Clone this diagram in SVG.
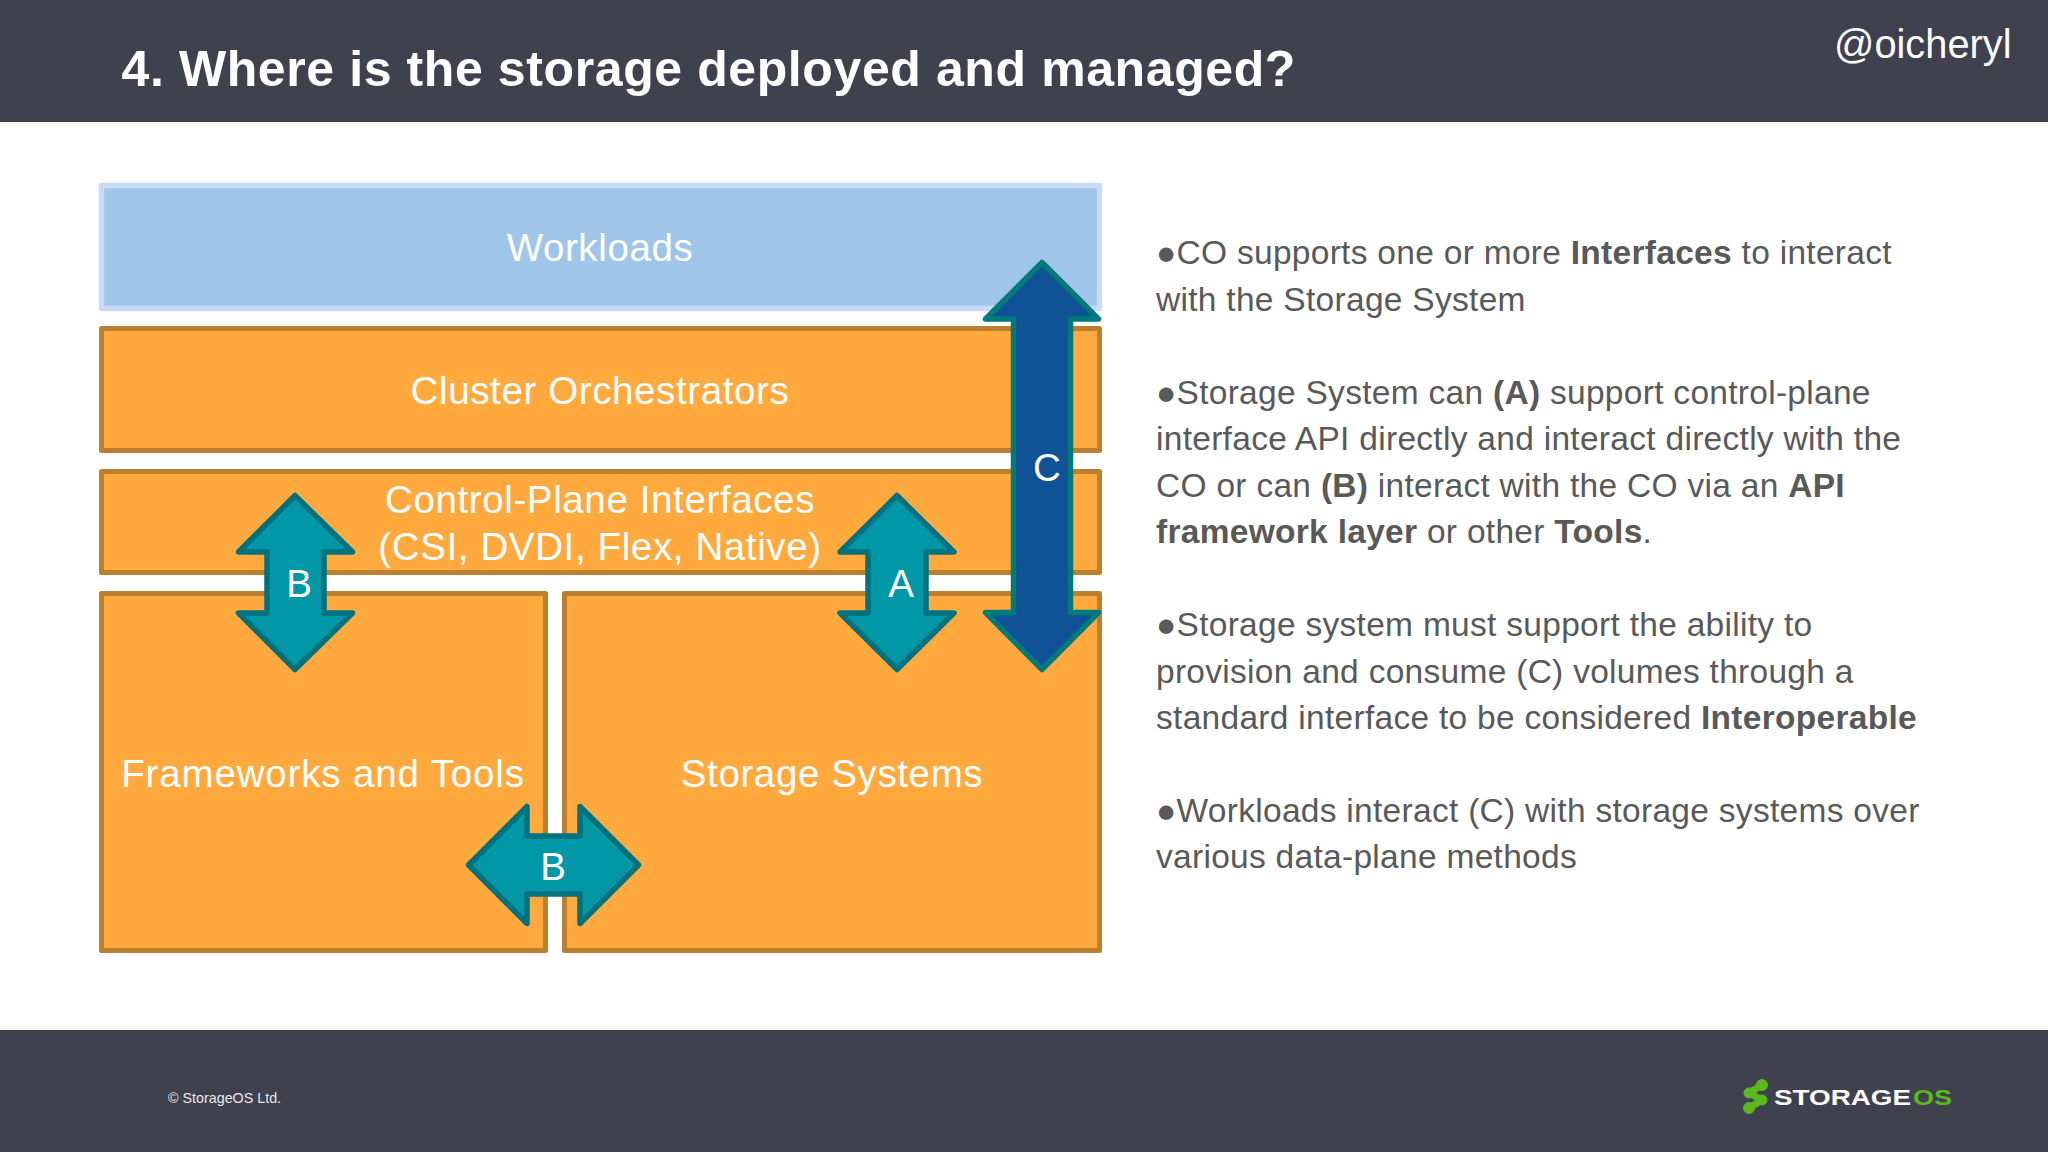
<svg xmlns="http://www.w3.org/2000/svg" width="2048" height="1152" viewBox="0 0 2048 1152">
<style>
text{font-family:"Liberation Sans",Arial,sans-serif}
.band{fill:#3f414f}
.box{fill:#ffa93f;stroke:#bc7e2f;stroke-width:5;stroke-linejoin:round}
.lbl{fill:#fff;font-size:38.5px;text-anchor:middle;letter-spacing:.62px}
.ar{fill:#0097a7;stroke:#00717e;stroke-width:5.5;stroke-linejoin:round}
.arc{fill:#0f5296;stroke:#007a7b;stroke-width:5.5;stroke-linejoin:round}
.al{fill:#fff;font-size:38.5px;text-anchor:middle}
.b{fill:#595959;font-size:33.5px;letter-spacing:.29px}
.b tspan.s{font-weight:bold}
.lg{stroke:#5cb91d;fill:#5cb91d}
</style>
<rect width="2048" height="1152" fill="#fff"/>
<rect class="band" width="2048" height="122"/>
<rect class="band" y="1030" width="2048" height="122"/>
<text x="121.500" y="86" fill="#fff" font-size="50" font-weight="bold" letter-spacing=".6">4. Where is the storage deployed and managed?</text>
<text x="1834" y="58" fill="#fff" font-size="39.800">@oicheryl</text>
<text x="168" y="1103" fill="#e8e8ec" font-size="14.300">© StorageOS Ltd.</text>
<g id="logo">
<path class="lg" d="M1762 1085L1749 1093L1762 1100L1749 1108" fill="none" stroke-width="7" stroke-linecap="round" stroke-linejoin="round" style="fill:none"/>
<circle class="lg" cx="1762" cy="1085" r="5.500"/><circle class="lg" cx="1749" cy="1093" r="5"/><circle class="lg" cx="1762" cy="1100" r="5"/><circle class="lg" cx="1749" cy="1108" r="5.500"/>
<text x="1774" y="1105" fill="#fff" font-size="22" font-weight="bold" textLength="137" lengthAdjust="spacingAndGlyphs">STORAGE</text>
<text x="1913" y="1105" fill="#5cb91d" font-size="22" font-weight="bold" textLength="39" lengthAdjust="spacingAndGlyphs">OS</text>
</g>
<g id="workloads"><rect x="101.500" y="185.500" width="998" height="123" fill="#9fc5e8" stroke="#c9daf8" stroke-width="5.500" stroke-linejoin="round"/><text class="lbl" x="600" y="261">Workloads</text></g>
<g id="cluster-orchestrators"><rect class="box" x="101.500" y="328.500" width="998" height="122"/><text class="lbl" x="600" y="404">Cluster Orchestrators</text></g>
<g id="control-plane"><rect class="box" x="101.500" y="471.500" width="998" height="101"/><text class="lbl" x="600" y="513">Control-Plane Interfaces</text><text class="lbl" x="600" y="560">(CSI, DVDI, Flex, Native)</text></g>
<g id="frameworks"><rect class="box" x="101.500" y="593.500" width="444" height="357"/><text class="lbl" x="323" y="787" style="letter-spacing:.85px">Frameworks and Tools</text></g>
<g id="storage-systems"><rect class="box" x="564.500" y="593.500" width="535" height="357"/><text class="lbl" x="832" y="787">Storage Systems</text></g>
<g id="connectors">
<g id="arrow-c"><path class="arc" d="M1042 262.500L1098.500 319H1070.500V612.500H1098.500L1042 669.500L985.500 612.500H1013.500V319H985.500Z"/><text class="al" x="1047" y="481">C</text></g>
<g id="arrow-a"><path class="ar" d="M897 495.500L954 552H926V613H954L897 669.500L840 613H868V552H840Z"/><text class="al" x="901" y="597">A</text></g>
<g id="arrow-b-vertical"><path class="ar" d="M295 495.500L352.500 552H324V613H352.500L295 669.500L238.500 613H267V552H238.500Z"/><text class="al" x="299" y="597">B</text></g>
<g id="arrow-b-horizontal"><path class="ar" d="M468.500 865L527 806.500V836H580V806.500L638.500 865L580 923.500V894H527V923.500Z"/><text class="al" x="553" y="880">B</text></g>
</g>
<g id="notes">
<text class="b" x="1156" y="264">●CO supports one or more <tspan class="s">Interfaces</tspan> to interact</text>
<text class="b" x="1156" y="311">with the Storage System</text>
<text class="b" x="1156" y="404">●Storage System can <tspan class="s">(A)</tspan> support control-plane</text>
<text class="b" x="1156" y="450">interface API directly and interact directly with the</text>
<text class="b" x="1156" y="497">CO or can <tspan class="s">(B)</tspan> interact with the CO via an <tspan class="s">API</tspan></text>
<text class="b" x="1156" y="543"><tspan class="s">framework layer</tspan> or other <tspan class="s">Tools</tspan>.</text>
<text class="b" x="1156" y="636">●Storage system must support the ability to</text>
<text class="b" x="1156" y="683">provision and consume (C) volumes through a</text>
<text class="b" x="1156" y="729">standard interface to be considered <tspan class="s">Interoperable</tspan></text>
<text class="b" x="1156" y="822">●Workloads interact (C) with storage systems over</text>
<text class="b" x="1156" y="868">various data-plane methods</text>
</g>
</svg>
